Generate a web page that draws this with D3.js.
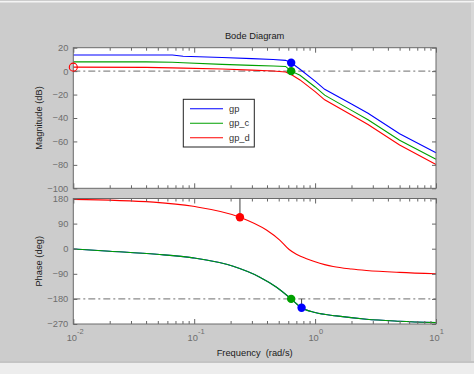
<!DOCTYPE html>
<html>
<head>
<meta charset="utf-8">
<script src="https://cdn.jsdelivr.net/npm/d3@7"></script>
<style>
body{margin:0;background:#cccccc;}
svg{display:block;font-family:"Liberation Sans",Arial,sans-serif;}
</style>
</head>
<body>
<svg id="graph"></svg>
<script>
// magnitude readings (dB)
var magFreq=[0.01,0.04,0.066,0.081,0.17,0.3,0.45,0.57,0.634,0.75,1.0,1.2,2,2.74,5,10]
var magGp=[13.8,13.8,13.8,12.7,11.6,10.7,9.9,9.2,7.2,1.6,-8.5,-15.5,-28,-36,-53.5,-69.6]
var magGpC=[7.9,7.9,7.6,7.2,5.8,4.9,4.4,4.0,0.0,-3.5,-13.5,-20.5,-33.5,-41.5,-59,-75.2]
var magGpD=[3.4,3.2,2.8,2.6,1.8,0.9,0.1,-0.7,-2.8,-7.5,-17.5,-24.5,-37.5,-45.5,-63,-79.7]

// phase readings (deg) - gp and gp_c share the same phase
var phaseFreqC=[0.01,0.02,0.049,0.098,0.21,0.349,0.48,0.634,0.773,1.0,1.5,2.66,5,10]
var phaseC=[-1,-9,-20,-33,-63,-102,-138,-180,-212,-229,-241,-253,-260,-265]
var phaseFreqD=[0.01,0.046,0.098,0.239,0.396,0.51,0.61,0.7,0.85,1.0,1.2,1.41,2,2.66,5,10]
var phaseD=[177,167,152,113,67,31,-3,-20,-36,-47,-57,-64,-73,-78,-85,-90]

var seriesNames=["gp","gp_c","gp_d"]
var seriesColors=["#0000ff","#00a000","#ff0000"]

var magTicks=[20,0,-20,-40,-60,-80,-100]
var phaseTicks=[180,90,0,-90,-180,-270]
var decades=[0.01,0.1,1,10]
var decadeExp=["-2","-1","0","1"]

// margin markers: [freq, value]
var magMarkers=[{f:0.634,v:7.2,c:0},{f:0.634,v:0,c:1}]
var magOpenMarker={f:0.01,v:3.4,c:2}
var phaseMarkers=[{f:0.239,v:113,c:2,stem:180},{f:0.634,v:-180,c:1},{f:0.773,v:-212,c:0,stem:-180}]

var screen={width:474,height:374}
var plot={left:73.3,right:436}
var magBox={top:47.7,bottom:188.3}
var phaseBox={top:198.5,bottom:324}

var svg=d3.select("#graph")
    .attr("width",screen.width)
    .attr("height",screen.height)

var xScale=d3.scaleLog()
    .domain([0.01,10])
    .range([plot.left,plot.right])
var yMag=d3.scaleLinear()
    .domain([-100,20])
    .range([magBox.bottom,magBox.top])
var yPhase=d3.scaleLinear()
    .domain([-270,180])
    .range([phaseBox.bottom,phaseBox.top])

var minorTicks=[]
decades.slice(0,3).forEach(function(d)
    {
        for(var k=2;k<10;k++){minorTicks.push(d*k)}
    })

var drawBackground=function()
    {
        svg.append("rect").attr("width",screen.width).attr("height",screen.height).attr("fill","#cccccc")
        svg.append("rect").attr("x",0).attr("y",1).attr("width",screen.width).attr("height",1.5).attr("fill","#f4f4f4")
        svg.append("rect").attr("x",471).attr("y",3).attr("width",3).attr("height",360).attr("fill","#d8d8d8")
        svg.append("rect").attr("x",0).attr("y",361).attr("width",screen.width).attr("height",2).attr("fill","#c4c4c4")
        svg.append("rect").attr("x",0).attr("y",363).attr("width",screen.width).attr("height",11).attr("fill","#ededed")
    }

var drawPanel=function(box,yScale,ticks,refLines)
    {
        var g=svg.append("g")
        g.append("rect")
            .attr("x",plot.left)
            .attr("y",box.top)
            .attr("width",plot.right-plot.left)
            .attr("height",box.bottom-box.top)
            .attr("fill","white")
        refLines.forEach(function(v)
            {
                g.append("line")
                    .attr("x1",plot.left).attr("x2",plot.right)
                    .attr("y1",yScale(v)).attr("y2",yScale(v))
                    .attr("stroke","#8a8a8a")
                    .attr("stroke-width",1.2)
                    .attr("stroke-dasharray","7,3,2,3")
            })
        return g
    }

var drawAxes=function(box,yScale,ticks)
    {
        var g=svg.append("g")
        var axes=[
            {gen:d3.axisBottom(xScale).tickValues(decades).tickSize(-5),y:box.bottom},
            {gen:d3.axisBottom(xScale).tickValues(minorTicks).tickSize(-3),y:box.bottom},
            {gen:d3.axisTop(xScale).tickValues(decades).tickSize(-5),y:box.top},
            {gen:d3.axisTop(xScale).tickValues(minorTicks).tickSize(-3),y:box.top}
        ]
        axes.forEach(function(a)
            {
                g.append("g")
                    .attr("transform","translate(0,"+a.y+")")
                    .call(a.gen.tickFormat("").tickSizeOuter(0))
            })
        g.append("g")
            .attr("transform","translate("+plot.left+",0)")
            .call(d3.axisLeft(yScale).tickValues(ticks).tickSize(-4).tickSizeOuter(0).tickPadding(5))
            .selectAll("text")
            .attr("fill","#6e6e6e")
            .attr("font-size","9.3px")
            .attr("font-family","Liberation Sans, Arial, sans-serif")
        g.append("g")
            .attr("transform","translate("+plot.right+",0)")
            .call(d3.axisRight(yScale).tickValues(ticks).tickSize(-4).tickSizeOuter(0).tickFormat(""))
        g.selectAll(".domain").remove()
        g.selectAll(".tick line").attr("stroke","#666")
        g.append("rect")
            .attr("x",plot.left)
            .attr("y",box.top)
            .attr("width",plot.right-plot.left)
            .attr("height",box.bottom-box.top)
            .attr("fill","none")
            .attr("stroke","#6a6a6a")
            .attr("stroke-width",1)
    }

var drawCurve=function(g,freqs,vals,yScale,color,curve)
    {
        var line=d3.line()
            .x(function(d,i){return xScale(freqs[i])})
            .y(function(d){return yScale(d)})
            .curve(curve)
        g.append("path")
            .datum(vals)
            .attr("d",line)
            .attr("fill","none")
            .attr("stroke",color)
            .attr("stroke-width",1.1)
    }

drawBackground()

var magPanel=drawPanel(magBox,yMag,magTicks,[0])
var phasePanel=drawPanel(phaseBox,yPhase,phaseTicks,[180,-180])

drawCurve(magPanel,magFreq,magGp,yMag,seriesColors[0],d3.curveLinear)
drawCurve(magPanel,magFreq,magGpC,yMag,seriesColors[1],d3.curveLinear)
drawCurve(magPanel,magFreq,magGpD,yMag,seriesColors[2],d3.curveLinear)

drawCurve(phasePanel,phaseFreqC,phaseC,yPhase,seriesColors[0],d3.curveMonotoneX)
drawCurve(phasePanel,phaseFreqC,phaseC,yPhase,seriesColors[1],d3.curveMonotoneX)
drawCurve(phasePanel,phaseFreqD,phaseD,yPhase,seriesColors[2],d3.curveMonotoneX)

drawAxes(magBox,yMag,magTicks)
drawAxes(phaseBox,yPhase,phaseTicks)

// stems and markers
phaseMarkers.filter(function(m){return m.stem!==undefined}).forEach(function(m)
    {
        svg.append("line")
            .attr("x1",xScale(m.f)).attr("x2",xScale(m.f))
            .attr("y1",yPhase(m.stem)).attr("y2",yPhase(m.v))
            .attr("stroke","#404040")
            .attr("stroke-width",1)
    })
svg.append("g")
    .selectAll("circle")
    .data(magMarkers)
    .enter()
    .append("circle")
    .attr("cx",function(m){return xScale(m.f)})
    .attr("cy",function(m){return yMag(m.v)})
    .attr("r",4.2)
    .attr("fill",function(m){return seriesColors[m.c]})
svg.append("g")
    .selectAll("circle")
    .data(phaseMarkers)
    .enter()
    .append("circle")
    .attr("cx",function(m){return xScale(m.f)})
    .attr("cy",function(m){return yPhase(m.v)})
    .attr("r",4.2)
    .attr("fill",function(m){return seriesColors[m.c]})
svg.append("circle")
    .attr("cx",xScale(magOpenMarker.f))
    .attr("cy",yMag(magOpenMarker.v))
    .attr("r",4)
    .attr("fill","none")
    .attr("stroke",seriesColors[magOpenMarker.c])
    .attr("stroke-width",1.1)

// x tick labels 10^n
var xLabels=svg.append("g")
decades.forEach(function(d,i)
    {
        xLabels.append("text")
            .attr("x",xScale(d)-1.5)
            .attr("y",340.5)
            .attr("text-anchor","middle")
            .attr("fill","#6e6e6e")
            .attr("font-size","9.3px")
            .text("10")
        xLabels.append("text")
            .attr("x",xScale(d)+3.8)
            .attr("y",333.5)
            .attr("fill","#6e6e6e")
            .attr("font-size","7.5px")
            .text(decadeExp[i])
    })

// labels
var labels=svg.append("g").attr("fill","#1a1a1a").attr("font-size","9.3px")
labels.append("text")
    .attr("x",(plot.left+plot.right)/2)
    .attr("y",39)
    .attr("text-anchor","middle")
    .text("Bode Diagram")
labels.append("text")
    .attr("x",(plot.left+plot.right)/2)
    .attr("y",356)
    .attr("text-anchor","middle")
    .attr("xml:space","preserve")
    .text("Frequency  (rad/s)")
labels.append("text")
    .attr("transform","translate(42,"+((magBox.top+magBox.bottom)/2)+") rotate(-90)")
    .attr("text-anchor","middle")
    .text("Magnitude (dB)")
labels.append("text")
    .attr("transform","translate(42,"+((phaseBox.top+phaseBox.bottom)/2)+") rotate(-90)")
    .attr("text-anchor","middle")
    .text("Phase (deg)")

// legend
var legend=svg.append("g")
legend.append("rect")
    .attr("x",183.3).attr("y",99.3)
    .attr("width",71).attr("height",47.7)
    .attr("fill","white")
    .attr("stroke","#222")
    .attr("stroke-width",1)
seriesNames.forEach(function(name,i)
    {
        var y=108.7+i*14.5
        legend.append("line")
            .attr("x1",190).attr("x2",223)
            .attr("y1",y).attr("y2",y)
            .attr("stroke",seriesColors[i])
            .attr("stroke-width",1.1)
        legend.append("text")
            .attr("x",229)
            .attr("y",y+3)
            .attr("fill","#333")
            .attr("font-size","9.3px")
            .text(name)
    })
</script>
</body>
</html>
